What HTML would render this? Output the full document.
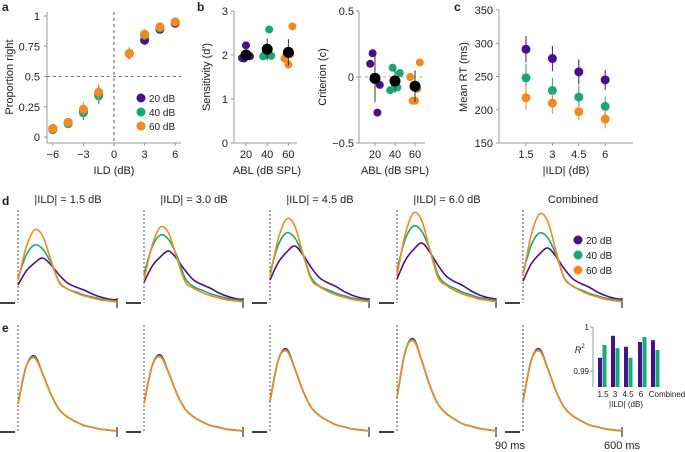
<!DOCTYPE html>
<html><head><meta charset="utf-8"><style>
body{margin:0;background:#fff}
svg{display:block;font-family:"Liberation Sans",Arial,sans-serif}
text{fill:#222}
</style></head><body>
<svg id="fig" width="685" height="452" viewBox="0 0 685 452"></svg>
<script>
const C={p:'#4b0f8e',g:'#17a878',o:'#f28a1c'};
// panel a
const ildA=[-6,-4.5,-3,-1.5,1.5,3,4.5,6];
const pr20=[.07,.12,.21,.35,.69,.80,.89,.94];
const pr40=[.06,.11,.20,.34,.69,.84,.90,.95];
const pr60=[.07,.12,.23,.37,.69,.85,.91,.95];
const errA=[.02,.03,.06,.07,.05,.04,.03,.02];
// panel b
const sensX=[20,40,60];
const sensInd=[[1.93,1.92,2.22,2.0,1.97],[1.97,2.02,2.05,2.58,1.98],[1.92,2.0,1.78,2.02,2.65]];
const sensMean=[2.0,2.13,2.06];
const sensErr=[0.05,0.25,0.30];
const critInd=[[0.10,0.18,0.0,-0.27,-0.06],[-0.10,0.07,-0.07,-0.08,0.03],[0.0,-0.18,-0.18,-0.09,0.11]];
const critMean=[-0.01,-0.03,-0.07];
const critErr=[0.18,0.09,0.12];
const jit=[-4,-2,0,2,4];
// panel c
const ildC=[1.5,3,4.5,6];
const rt20=[291,277,257,245];
const rt40=[248,229,219,205];
const rt60=[218,210,197,186];
const rtErr20=[20,19,19,15];
const rtErr40=[21,19,17,15];
const rtErr60=[18,16,13,14];
// panel d/e shapes (heights, 13 samples across window)
const dO=[22,55,72,66,42,20,14,10,7,5,3,2,1];
const dG=[25,48,58,54,40,21,14,11,8,6,4,3,2];
const dP=[18,32,40,45,38,28,20,16,13,9,6,4,3];
const peakO=[73,76,84,90,89];
const peakG=[58,68,70,77,70];
const peakP=[45,52,57,60,55];
const eShape=[30,70,80,62,40,24,16,11,7,5,3,2,1];
const peakE=[75,76,82,92,82];
const titles=['|ILD| = 1.5 dB','|ILD| = 3.0 dB','|ILD| = 4.5 dB','|ILD| = 6.0 dB','Combined'];
// inset
const r2cats=['1.5','3','4.5','6','Combined'];
const r2p=[0.9930,0.9980,0.9955,0.9966,0.9970];
const r2g=[0.9959,0.9952,0.9930,0.9977,0.9948];

const svg=document.getElementById('fig');
const NS='http://www.w3.org/2000/svg';
function mk(tag,at,txt){const e=document.createElementNS(NS,tag);for(const k in at)e.setAttribute(k,at[k]);if(txt!==undefined)e.textContent=txt;svg.appendChild(e);return e;}
function line(x1,y1,x2,y2,st,w,dash){return mk('line',{x1,y1,x2,y2,stroke:st,'stroke-width':w||1,'stroke-dasharray':dash||'none'});}
function txt(x,y,s,sz,anc,extra){return mk('text',Object.assign({x,y,'font-size':sz||11,'text-anchor':anc||'middle'},extra||{}),s);}
function dot(x,y,r,c){return mk('circle',{cx:x,cy:y,r,fill:c});}

[['a',2,11],['b',197,11],['c',454,11],['d',2,205],['e',2,332]].forEach(([l,x,y])=>{const t=txt(x,y,l,12,'start',{'font-weight':'bold'});

});

// ---- panel a
const ax=v=>114+v*10.2, ay=v=>137-v*121;
let e=line(47,12,47,143,'#999');
e=line(47,143,181,143,'#999');
[0,.25,.5,.75,1].forEach(v=>{line(44,ay(v),47,ay(v),'#999');const t=txt(40,ay(v)+4,String(v),11,'end');});
[-6,-3,0,3,6].forEach(v=>{line(ax(v),143,ax(v),146,'#999');const t=txt(ax(v),158,v<0?'−'+(-v):String(v));});
line(ax(0),12,ax(0),143,'#555',1,'3,3');line(47,ay(.5),181,ay(.5),'#777',1,'3,3');
e=txt(114,174,'ILD (dB)');
e=txt(0,0,'Proportion right',11,'middle',{transform:'translate(13,77) rotate(-90)'});
[[pr20,C.p],[pr40,C.g],[pr60,C.o]].forEach(([arr,c])=>{arr.forEach((v,i)=>{line(ax(ildA[i]),ay(v-errA[i]),ax(ildA[i]),ay(v+errA[i]),c,1);const d=dot(ax(ildA[i]),ay(v),4.5,c);});});
[['20 dB',C.p,98],['40 dB',C.g,112],['60 dB',C.o,126]].forEach(([s,c,y])=>{dot(141,y,4.5,c);const t=txt(149,y+4,s,10,'start');});

// ---- panel b sensitivity
const bx=v=>246+(v-20)*1.06, by=v=>143-v*44;
e=line(234,11,234,143,'#999');
e=line(234,143,297,143,'#999');
[0,1,2,3].forEach(v=>{line(231,by(v),234,by(v),'#999');txt(228,by(v)+4,String(v),11,'end');});
sensX.forEach(v=>{line(bx(v),143,bx(v),146,'#999');txt(bx(v),158,String(v));});
e=txt(0,0,'Sensitivity (d′)',11,'middle',{transform:'translate(210,77) rotate(-90)'});
const cols=[C.p,C.g,C.o];
sensInd.forEach((arr,i)=>arr.forEach((v,j)=>{const d=dot(bx(sensX[i])+jit[j],by(v),4,cols[i]);}));
sensMean.forEach((v,i)=>{line(bx(sensX[i]),by(v-sensErr[i]),bx(sensX[i]),by(v+sensErr[i]),'#333');const d=dot(bx(sensX[i]),by(v),5.5,'#000');});
e=txt(267,174,'ABL (dB SPL)');
// criterion
const cx=v=>375+(v-20)*1.0, cy=v=>77-v*132;
e=line(359,11,359,143,'#999');
e=line(359,143,425,143,'#999');
[[-0.5,'−0.5'],[0,'0'],[0.5,'0.5']].forEach(([v,s])=>{line(356,cy(v),359,cy(v),'#999');txt(354,cy(v)+4,s,11,'end');});
sensX.forEach(v=>{line(cx(v),143,cx(v),146,'#999');txt(cx(v),158,String(v));});
line(359,cy(0),425,cy(0),'#aaa',1,'3,3');
e=txt(0,0,'Criterion (c)',11,'middle',{transform:'translate(326,77) rotate(-90)'});
critInd.forEach((arr,i)=>arr.forEach((v,j)=>{const d=dot(cx(sensX[i])+jit[j]*1.2,cy(v),4,cols[i]);}));
critMean.forEach((v,i)=>{line(cx(sensX[i]),cy(v-critErr[i]),cx(sensX[i]),cy(v+critErr[i]),'#333');const d=dot(cx(sensX[i]),cy(v),5.5,'#000');});
e=txt(395,174,'ABL (dB SPL)');

// ---- panel c
const qx=v=>526+(v-1.5)*17.6, qy=v=>143-(v-150)*0.665;
e=line(499,10,499,143,'#999');
e=line(499,143,633,143,'#999');
[150,200,250,300,350].forEach(v=>{line(496,qy(v),499,qy(v),'#999');txt(493,qy(v)+4,String(v),11,'end');});
ildC.forEach(v=>{line(qx(v),143,qx(v),146,'#999');txt(qx(v),158,String(v));});
e=txt(0,0,'Mean RT (ms)',11,'middle',{transform:'translate(467,77) rotate(-90)'});
e=txt(566,174,'|ILD| (dB)');
[[rt20,rtErr20,C.p],[rt40,rtErr40,C.g],[rt60,rtErr60,C.o]].forEach(([arr,er,c])=>arr.forEach((v,i)=>{line(qx(ildC[i]),qy(v-er[i]),qx(ildC[i]),qy(v+er[i]),c,1);const d=dot(qx(ildC[i]),qy(v),4.5,c);}));

// ---- curves
function smooth(pts){let d='M'+pts[0][0]+','+pts[0][1];for(let i=0;i<pts.length-1;i++){const p0=pts[Math.max(0,i-1)],p1=pts[i],p2=pts[i+1],p3=pts[Math.min(pts.length-1,i+2)];d+=' C'+(p1[0]+(p2[0]-p0[0])/6)+','+(p1[1]+(p2[1]-p0[1])/6)+' '+(p2[0]-(p3[0]-p1[0])/6)+','+(p2[1]-(p3[1]-p1[1])/6)+' '+p2[0]+','+p2[1];}return d;}
const xs=[18,144,270,397,523];
function curve(x0,base,arr,scale,c,name){const mx=Math.max(...arr);const pts=arr.map((v,i)=>[x0+i*99/(arr.length-1),base-v*scale/mx]);const p=mk('path',{d:smooth(pts),fill:'none',stroke:c,'stroke-width':1.6});}
function frame(x0,base,top){line(x0,top,x0,base,'#555',1,'2,2');line(x0-18,base,x0-3,base,'#000',1.5);line(x0+99,base-5,x0+99,base+5,'#000',1);}
xs.forEach((x0,k)=>{
  frame(x0,303,210);
  const t=txt(x0+50,203,titles[k],11);
  curve(x0,303,dP,peakP[k],C.p,'d-curve-20db');
  curve(x0,303,dG,peakG[k],C.g,'d-curve-40db');
  curve(x0,303,dO,peakO[k],C.o,'d-curve-60db');
  frame(x0,432,325);
  curve(x0,432,eShape.map((v,i)=>v+(i==2?1:0)),peakE[k]+1,C.p,'e-curve-20db');
  curve(x0,432,eShape,peakE[k],C.g,'e-curve-40db');
  curve(x0,432,eShape.map((v,i)=>v-(i==2?1:0)),peakE[k]-1,C.o,'e-curve-60db');
});
[['20 dB',C.p,240],['40 dB',C.g,255],['60 dB',C.o,270]].forEach(([s,c,y])=>{dot(578,y,4.5,c);const t=txt(586,y+4,s,10,'start');});
e=txt(510,449,'90 ms',11);
e=txt(622,449,'600 ms',11);

// ---- inset
const iy=v=>371-(v-0.99)*4400;
e=line(593,327,593,387,'#999');
[[1,'1'],[0.99,'0.99']].forEach(([v,s])=>{line(590,iy(v),593,iy(v),'#999');txt(589,iy(v)+3,s,8,'end');});
e=txt(578,353,'R',9,'middle',{'font-style':'italic'});
txt(583,348,'2',6);
const gx=[602,615,628,642,655];
const lx=[603,615,628,641,667];
r2cats.forEach((s,i)=>{
  const b1=mk('rect',{x:gx[i]-4,y:iy(r2p[i]),width:4,height:387-iy(r2p[i]),fill:C.p});
  const b2=mk('rect',{x:gx[i]+0.5,y:iy(r2g[i]),width:4,height:387-iy(r2g[i]),fill:C.g});
  const t=txt(lx[i],397,s,8);
});
e=txt(626,407,'|ILD| (dB)',8);
</script>
</body></html>
